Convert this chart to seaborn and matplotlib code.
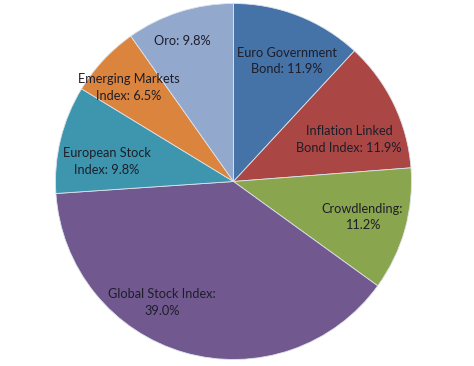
import numpy as np
import matplotlib
matplotlib.use("Agg")
import matplotlib.pyplot as plt
import seaborn as sns

categories = ["Euro Government\nBond", "Inflation Linked\nBond Index", "Crowdlending:\n",
              "Global Stock Index:\n", "European Stock\nIndex", "Emerging Markets\nIndex", "Oro"]
values = [11.9, 11.9, 11.2, 39.0, 9.8, 6.5, 9.8]
colors = ["#4572A7", "#AA4643", "#89A54E", "#71588F", "#3D96AE", "#DB843D", "#92A8CD"]

# label placement (fraction of radius, angle offset in degrees from wedge mid-angle)
label_r = [0.74, 0.69, 0.75, 0.79, 0.72, 0.79, 0.84]
label_da = [-2.5, -5.9, 0.4, -14.6, 4.8, 1.0, 2.5]

sns.set_theme(style="white")
plt.rcParams['font.family'] = ['Lato', 'DejaVu Sans']

fig = plt.figure(figsize=(4.74, 3.66), dpi=100)
ax = fig.add_axes([55.5 / 474, 6.5 / 366, 356 / 474, 356 / 366])
wedges, _ = ax.pie(values, colors=colors, startangle=90, counterclock=False,
                   radius=1.0, wedgeprops=dict(edgecolor="#dde3ea", linewidth=0.6))
ax.set_xlim(-1, 1)
ax.set_ylim(-1, 1)
ax.set_aspect("equal")
ax.axis("off")

for w, cat, val, r, da in zip(wedges, categories, values, label_r, label_da):
    mid = np.deg2rad((w.theta1 + w.theta2) / 2 + da)
    if cat.endswith("\n"):
        txt = f"{cat}{val:.1f}%"
    else:
        txt = f"{cat}: {val:.1f}%"
    ax.text(r * np.cos(mid), r * np.sin(mid), txt, ha="center", va="center",
            fontsize=9.2, color="#1e1e2a", linespacing=1.45)

fig.savefig("out.png", dpi=100)
